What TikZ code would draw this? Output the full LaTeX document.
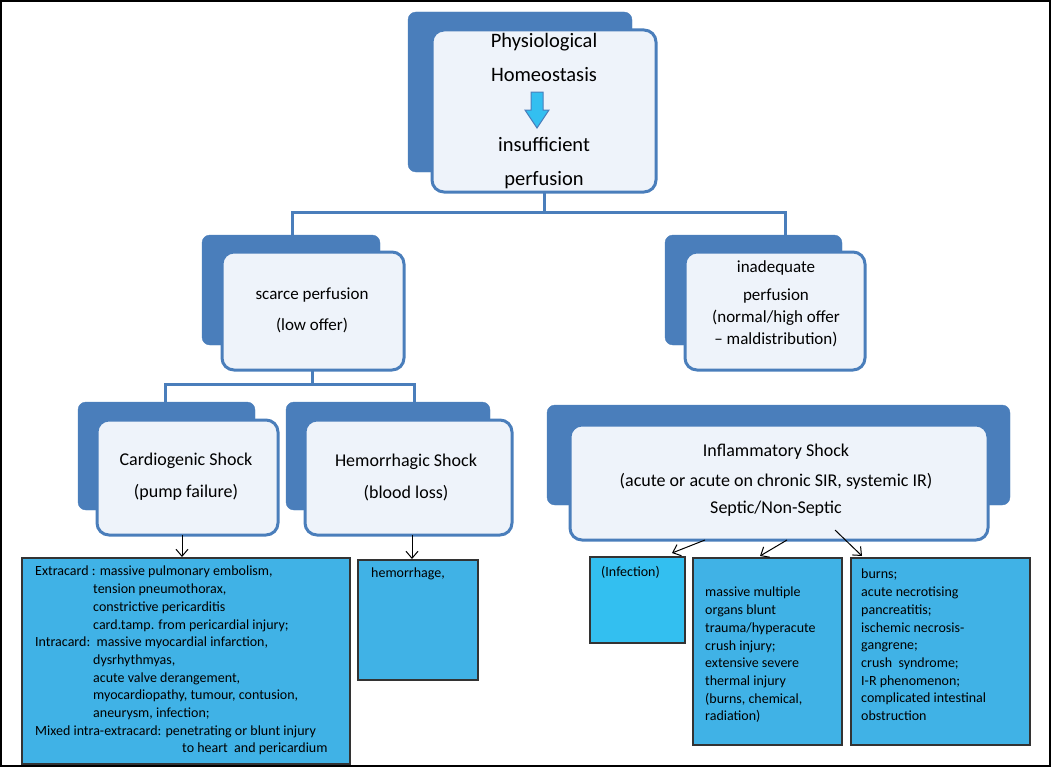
\documentclass[tikz,border=0pt]{standalone}
\usepackage{fontspec}
\setmainfont{Carlito}
\usetikzlibrary{arrows.meta}
\definecolor{dkblue}{HTML}{4A7EBB}
\definecolor{paleblue}{HTML}{EEF3FA}
\definecolor{boxblue}{HTML}{40B2E6}
\definecolor{infblue}{HTML}{33BFF0}
\begin{document}
\begin{tikzpicture}[x=1pt,y=-1pt,
  back/.style={fill=dkblue,draw=dkblue,rounded corners=8pt},
  front/.style={fill=paleblue,draw=dkblue,line width=3pt,rounded corners=12pt},
  leaf/.style={fill=boxblue,draw=black!80,line width=1.3pt},
  conn/.style={draw=dkblue,line width=3pt},
  arr/.style={-{Straight Barb[length=7pt,width=12pt]},line width=1pt},
  big/.style={font=\fontsize{20.5}{34}\selectfont,align=center},
  mid/.style={font=\fontsize{17}{31}\selectfont,align=center},
  small/.style={font=\fontsize{14}{17.7}\selectfont,align=left,anchor=north west,inner sep=0pt}]
\useasboundingbox (0,0) rectangle (1052,768);
\draw[line width=1.3pt] (1,1) rectangle (1050,766);
% top
\draw[back] (408,12) rectangle (632,172);
\draw[front] (432,30) rectangle (656,192);
\coordinate (topb) at (544,192);
\node[big] (t1) at (544,57) {Physiological\\Homeostasis};
\node[big] (t2) at (544,163) {insufficient\\perfusion};
\draw[fill=infblue,draw=dkblue,line width=1pt] (531,92) -- (543,92) -- (543,110) -- (549,110) -- (537,128) -- (525,110) -- (531,110) -- cycle;
% level 1
\draw[back] (202,235) rectangle (380,345);
\draw[front] (222,252) rectangle (404,370);
\node[mid] (l1) at (312,310) {scarce perfusion\\(low offer)};
\draw[back] (665,235) rectangle (842,345);
\draw[front] (685,252) rectangle (865,370);
\node[mid,font=\fontsize{17}{22}\selectfont] (r1) at (776,304) {inadequate\\[6pt]perfusion\\(normal/high offer\\– maldistribution)};
\coordinate (lt) at (292,235); \coordinate (rt) at (785,235);
\draw[conn] (topb) -- (544,212) -| (lt);
\draw[conn] (544,212) -| (rt);
% level 2
\draw[back] (78,402) rectangle (255,510);
\draw[front] (97,420) rectangle (278,535);
\node[mid,font=\fontsize{18}{32}\selectfont] (cs) at (186,477) {Cardiogenic Shock\\(pump failure)};
\draw[back] (286,402) rectangle (490,510);
\draw[front] (305,420) rectangle (512,535);
\node[mid,font=\fontsize{18}{32}\selectfont] (hs) at (406,477) {Hemorrhagic Shock\\(blood loss)};
\draw[back] (547,405) rectangle (1010,505);
\draw[front] (570,425) rectangle (988,540);
\node[mid,font=\fontsize{18}{30}\selectfont] (is) at (776,480) {Inflammatory Shock\\(acute or acute on chronic SIR, systemic IR)\\[-3pt]Septic/Non-Septic};
\coordinate (l1b) at (312,370);
\coordinate (cst) at (165,402); \coordinate (hst) at (414,402);
\draw[conn] (l1b) -- (312,384) -| (cst);
\draw[conn] (312,384) -| (hst);
% leaves
\draw[leaf] (22,558) rectangle (350,764);
\node[small] (b1) at (35,566) {Extracard : massive pulmonary embolism,\\
\hspace*{58pt}tension pneumothorax,\\
\hspace*{58pt}constrictive pericarditis\\
\hspace*{58pt}card.tamp. from pericardial injury;\\
Intracard:\ \ massive myocardial infarction,\\
\hspace*{58pt}dysrhythmyas,\\
\hspace*{58pt}acute valve derangement,\\
\hspace*{58pt}myocardiopathy, tumour, contusion,\\
\hspace*{58pt}aneurysm, infection;\\
Mixed intra-extracard: penetrating or blunt injury\\
\hspace*{147pt}to heart\ \ and pericardium};
\draw[leaf] (358,560) rectangle (478,680);
\node[small] (b2) at (371,568) {hemorrhage,};
\draw[leaf,fill=infblue] (590,557) rectangle (685,643);
\node[small] (b3) at (601,566) {(Infection)};
\draw[leaf] (693,558) rectangle (842,745);
\node[small] (b4) at (705,587) {massive multiple\\organs blunt\\trauma/hyperacute\\crush injury;\\extensive severe\\thermal injury\\(burns, chemical,\\radiation)};
\draw[leaf] (851,558) rectangle (1030,745);
\node[small] (b5) at (861,569) {burns;\\acute necrotising\\pancreatitis;\\ischemic necrosis-\\gangrene;\\crush\ \ syndrome;\\I-R phenomenon;\\complicated intestinal\\obstruction};
% arrows
\draw[arr] (182,535) -- (182,557);
\draw[arr] (412,535) -- (412,559);
\draw[arr] (705,540) -- (672,553);
\draw[arr] (787,540) -- (760,556);
\draw[arr] (835,530) -- (862,556);
\end{tikzpicture}
\end{document}
